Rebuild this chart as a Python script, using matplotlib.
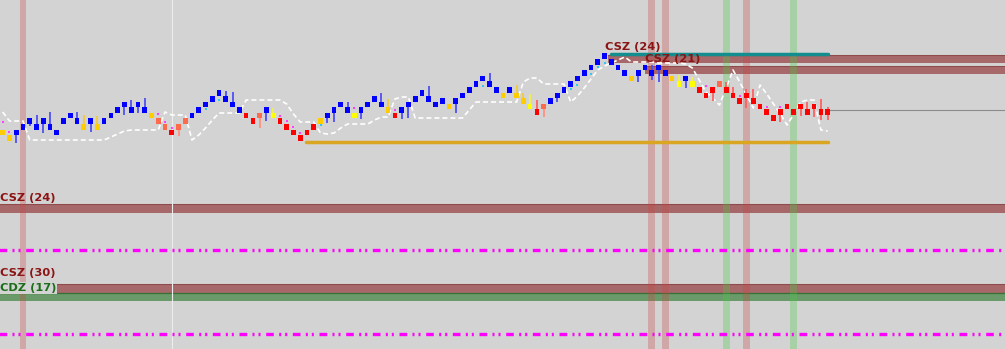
import matplotlib
matplotlib.use("Agg")
import matplotlib.pyplot as plt
import numpy as np

# ---------------- data (price units, arbitrary scale) -------------
opens = [219.5, 213.9, 213.9, 219.5, 225.1, 219.5, 225.1, 219.5, 213.9, 225.1,
         230.7, 225.1, 225.1, 225.1, 225.1, 225.1, 230.7, 236.3, 241.9, 236.3,
         241.9, 236.3, 236.3, 230.7, 225.1, 219.5, 225.1, 230.7, 230.7, 236.3,
         241.9, 247.5, 253.1, 247.5, 241.9, 236.3, 236.3, 230.7, 236.3, 236.3,
         236.3, 230.7, 225.1, 219.5, 213.9, 219.5, 225.1, 225.1, 230.7, 236.3,
         241.9, 236.3, 236.3, 236.3, 241.9, 247.5, 241.9, 241.9, 236.3, 236.3,
         241.9, 247.5, 253.1, 247.5, 241.9, 245.3, 245.3, 245.3, 250.9, 256.5,
         262.1, 267.7, 262.1, 256.5, 256.5, 256.5, 256.5, 250.9, 245.3, 239.7,
         245.3, 245.3, 250.9, 256.5, 262.1, 267.7, 273.3, 278.9, 284.5, 290.1,
         284.5, 278.9, 273.3, 273.3, 273.3, 278.9, 273.3, 278.9, 273.3, 273.3,
         267.7, 267.7, 267.7, 262.1, 256.5, 262.1, 267.7, 262.1, 256.5, 250.9,
         256.5, 250.9, 245.3, 239.7, 234.1, 239.7, 245.3, 239.7, 245.3, 239.7,
         245.3, 239.7, 239.7]
closes = [213.9, 208.3, 219.5, 225.1, 230.7, 225.1, 230.7, 225.1, 219.5, 230.7,
          236.3, 230.7, 219.5, 230.7, 219.5, 230.7, 236.3, 241.9, 247.5, 241.9,
          247.5, 241.9, 230.7, 225.1, 219.5, 213.9, 219.5, 225.1, 236.3, 241.9,
          247.5, 253.1, 258.7, 253.1, 247.5, 241.9, 230.7, 225.1, 230.7, 241.9,
          230.7, 225.1, 219.5, 213.9, 208.3, 213.9, 219.5, 230.7, 236.3, 241.9,
          247.5, 241.9, 230.7, 241.9, 247.5, 253.1, 247.5, 236.3, 230.7, 241.9,
          247.5, 253.1, 258.7, 253.1, 247.5, 250.9, 239.7, 250.9, 256.5, 262.1,
          267.7, 273.3, 267.7, 262.1, 250.9, 262.1, 250.9, 245.3, 239.7, 234.1,
          239.7, 250.9, 256.5, 262.1, 267.7, 273.3, 278.9, 284.5, 290.1, 295.7,
          290.1, 284.5, 278.9, 267.7, 278.9, 284.5, 278.9, 284.5, 278.9, 267.7,
          262.1, 273.3, 262.1, 256.5, 250.9, 256.5, 262.1, 256.5, 250.9, 245.3,
          250.9, 245.3, 239.7, 234.1, 228.5, 234.1, 239.7, 234.1, 239.7, 234.1,
          239.7, 234.1, 234.1]
highs = [219.5, 213.9, 219.5, 225.1, 230.7, 234.0, 230.7, 237.0, 219.5, 230.7,
         236.3, 237.0, 234.0, 230.7, 233.0, 230.7, 236.3, 241.9, 247.5, 249.0,
         247.5, 251.0, 236.3, 230.7, 225.1, 219.5, 225.1, 230.7, 236.3, 241.9,
         247.5, 253.1, 258.7, 258.0, 257.3, 241.9, 236.3, 230.7, 236.3, 241.9,
         241.5, 230.7, 225.1, 219.5, 213.9, 219.5, 225.1, 230.7, 236.3, 241.9,
         247.5, 247.3, 236.3, 241.9, 247.5, 253.1, 256.5, 250.0, 236.3, 241.9,
         247.5, 253.1, 258.7, 263.0, 247.5, 250.9, 245.3, 250.9, 256.5, 262.1,
         267.7, 273.3, 275.7, 262.1, 256.5, 262.1, 264.0, 256.3, 254.7, 249.0,
         245.3, 250.9, 256.5, 262.1, 267.7, 273.3, 278.9, 284.5, 290.1, 295.7,
         290.1, 284.5, 278.9, 273.3, 278.9, 284.5, 284.0, 284.5, 278.9, 273.3,
         274.0, 273.3, 272.3, 262.1, 256.5, 262.1, 267.7, 267.3, 262.0, 250.9,
         260.0, 259.7, 245.3, 239.7, 234.1, 239.7, 245.3, 239.7, 245.3, 247.3,
         245.3, 249.7, 242.3]
lows = [213.9, 208.3, 206.0, 219.5, 223.0, 219.5, 216.0, 219.5, 213.9, 225.1,
        230.7, 225.1, 219.5, 217.0, 219.5, 225.1, 230.7, 236.3, 234.0, 236.3,
        236.0, 236.3, 230.7, 225.1, 219.5, 213.9, 213.0, 225.1, 230.7, 236.3,
        241.9, 247.5, 253.1, 247.5, 241.9, 236.3, 230.7, 225.1, 221.0, 228.3,
        230.7, 225.1, 219.5, 213.9, 208.3, 213.9, 219.5, 225.1, 226.3, 227.3,
        241.9, 236.3, 230.7, 229.7, 241.9, 247.5, 241.9, 236.3, 230.7, 229.7,
        231.0, 247.5, 253.1, 247.5, 241.9, 245.3, 239.7, 235.7, 250.9, 256.5,
        262.1, 267.7, 262.1, 256.5, 250.9, 256.5, 250.9, 245.3, 239.7, 234.1,
        232.3, 245.3, 247.0, 256.5, 262.1, 267.7, 273.3, 278.9, 284.5, 290.1,
        284.5, 278.9, 273.3, 267.7, 267.3, 278.9, 269.0, 267.3, 273.3, 267.7,
        262.1, 260.7, 262.1, 256.5, 250.9, 248.3, 262.1, 256.5, 250.9, 245.3,
        240.7, 245.3, 239.7, 234.1, 228.5, 227.3, 239.7, 234.1, 233.0, 234.1,
        232.3, 229.0, 229.0]
# bar colour class: B blue, R red, S salmon, Y gold, L bright yellow
bar_class = ("YYBBBBBBBB" "BBYBYBBBBB" "BBYSSRSSBB" "BBBBBBRRSB" "LRRRRRRYBB"
             "BBLBBBBYRB" "BBBBBBYBBB" "BBBBYBYYLR" "SBBBBBBBBB" "BBBYBBBBBY"
             "LBLRRRSRRR" "RRRRRRRRRR" "RRR")
trail = [237, 228, 228, 228, 209, 209, 209, 209, 209, 209,
         209, 209, 209, 209, 209, 209, 212, 215, 218, 219,
         219, 219, 219, 219, 237, 234, 234, 234, 209, 214,
         221, 229, 236, 236, 236, 236, 249, 249, 249, 249,
         249, 249, 245, 235, 227, 227, 227, 216, 215, 216,
         221, 225, 225, 225, 225, 229, 232, 232, 250, 252,
         252, 231, 231, 231, 231, 231, 231, 231, 231, 239,
         247, 247, 247, 247, 247, 247, 247, 267, 271, 271,
         265, 265, 265, 265, 247, 253, 261, 270, 279, 283,
         286, 289, 292, 287, 287, 287, 287, 286, 286, 286,
         286, 285, 281, 269, 257, 251, 244, 261, 279, 267,
         254, 241, 264, 255, 245, 235, 224, 235, 247, 249,
         249, 219, 218]
magenta_idx = [0, 1, 23, 24, 25, 41, 42, 43, 44, 52, 58, 104, 109, 113, 115]
magenta_val = [227, 217, 235, 227, 221.5, 233, 228, 222, 216.5, 241.5, 239, 263.5, 253, 241.7, 242.5]
cyan_idx = [30, 32, 47, 71, 84, 85, 87, 88, 89]
cyan_val = [240, 249, 224, 263, 259.7, 264, 274.7, 282.3, 286]

# zones: (label, low, high, start index)
supply_zones = [("CSZ (24)", 286.0, 294.0, 89.5),
                ("CSZ (21)", 275.4, 283.5, 95.0),
                ("CSZ (24)", 136.0, 145.0, -1.0),
                ("CSZ (30)", 55.7, 65.0, -1.0)]
demand_zones = [("CDZ (17)", 48.3, 55.7, -1.0)]
support_level = 207.3      # orange
resistance_level = 295.5   # teal
last_price = 239.0
pivot_levels = [99.5, 15.0]
red_marks = [3, 96, 98, 110]
green_marks = [107, 117]
session_mark = 25

BG = "#d3d3d3"
col_map = {"B": "#0000ff", "R": "#ff0000", "S": "#ff6a4d", "Y": "#ffcc00", "L": "#ffff00"}
wick_map = {"B": "#5050f0", "R": "#ff6060", "S": "#ff9080", "Y": "#f0c840", "L": "#f0f050"}

fig = plt.figure(figsize=(10.05, 3.49), dpi=100, facecolor=BG)
ax = fig.add_axes([0, 0, 1, 1])
ax.set_facecolor(BG)
ax.set_xlim(-0.40, 148.23)
ax.set_ylim(0, 349)
ax.set_axis_off()

n = len(opens)
idx = np.arange(n)
xr = ax.get_xlim()[1]

# horizontal zones
for lab, lo, hi, x0 in supply_zones:
    ax.fill_between([x0, xr + 1], lo, hi, color="#811010", alpha=0.55, lw=0, zorder=1)
    ax.plot([x0, xr + 1], [hi, hi], color="#6a1010", alpha=0.35, lw=0.8, zorder=1)
for lab, lo, hi, x0 in demand_zones:
    ax.fill_between([x0, xr + 1], lo, hi, color="#146b14", alpha=0.55, lw=0, zorder=1)
    ax.plot([x0, xr + 1], [hi, hi], color="#0f5a0f", alpha=0.6, lw=0.9, zorder=1)

# vertical marks
for i in red_marks:
    ax.axvspan(i - 0.5, i + 0.5, color="#cc4444", alpha=0.3, lw=0, zorder=1.5)
for i in green_marks:
    ax.axvspan(i - 0.5, i + 0.5, color="#44cc44", alpha=0.3, lw=0, zorder=1.5)
ax.axvline(session_mark, color="#ededed", lw=0.8, zorder=1.6)

# pivot dash-dot lines
for lvl in pivot_levels:
    ax.plot([-1, xr + 1], [lvl, lvl], color="#ff00ff", lw=2.4,
            ls=(0, (2.3, 1.6, 0.6, 1.2, 0.6, 1.7)), solid_capstyle="butt",
            dash_capstyle="butt", zorder=2)

# last price line
ax.plot([n - 1, xr + 1], [last_price, last_price], color="#8c8c8c", lw=0.8, zorder=2)

# trailing stop
ax.plot(idx, trail, color="white", lw=1.2, ls=(0, (3, 1.8)), zorder=3)

# support / resistance lines
ax.plot([44.9, n - 1], [support_level, support_level], color="#daa520", lw=2.5,
        solid_capstyle="round", zorder=3.5)
ax.plot([90.0, n - 1], [resistance_level, resistance_level], color="#138d8d", lw=2.5,
        solid_capstyle="round", zorder=3.5)

# candles
wcols = [wick_map[c] for c in bar_class]
bcols = [col_map[c] for c in bar_class]
ax.vlines(idx, lows, highs, colors=wcols, lw=1.3, zorder=4)
o = np.array(opens)
c = np.array(closes)
ax.bar(idx, c - o, bottom=o, width=0.70, color=bcols, lw=0, zorder=4.5)

ax.scatter(magenta_idx, magenta_val, s=4, marker="s", color="#ff40ff", lw=0, zorder=5)
ax.scatter(cyan_idx, cyan_val, s=4, marker="s", color="#30c8f0", lw=0, zorder=5)

# labels
fs = 8.2
dark_red = "#8b1414"
ax.text(89.07, 298.5, supply_zones[0][0], color=dark_red, fontsize=fs, fontweight="bold",
        va="baseline", ha="left", zorder=6)
ax.text(95.0, 286.5, supply_zones[1][0], color=dark_red, fontsize=fs, fontweight="bold",
        va="baseline", ha="left", zorder=6)
ax.text(-0.45, 148.0, supply_zones[2][0], color=dark_red, fontsize=fs, fontweight="bold",
        va="baseline", ha="left", zorder=6)
ax.text(-0.45, 72.5, supply_zones[3][0], color=dark_red, fontsize=fs, fontweight="bold",
        va="baseline", ha="left", zorder=6)
ax.text(-0.45, 58.0, demand_zones[0][0], color="#1a6e1a", fontsize=fs, fontweight="bold",
        va="baseline", ha="left", zorder=6.5,
        bbox=dict(boxstyle="square,pad=0.12", fc=BG, ec="none"))

fig.savefig("out.png", dpi=100, facecolor=BG)
